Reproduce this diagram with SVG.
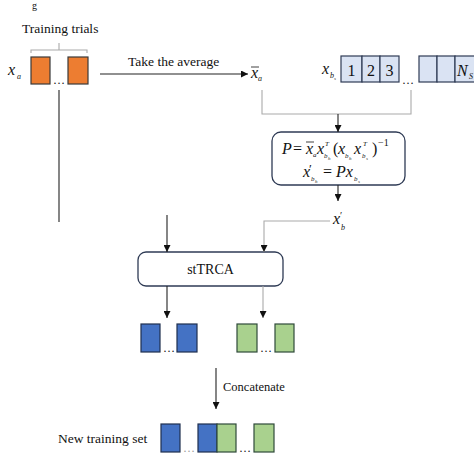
<svg xmlns="http://www.w3.org/2000/svg" width="474" height="476" viewBox="0 0 474 476">
<defs>
<marker id="ab" viewBox="0 0 10 10" refX="10" refY="5" markerWidth="7" markerHeight="7" markerUnits="userSpaceOnUse" orient="auto"><path d="M0,0 L10,5 L0,10 z" fill="#111"/></marker>
<marker id="ag" viewBox="0 0 10 10" refX="10" refY="5" markerWidth="7" markerHeight="7" markerUnits="userSpaceOnUse" orient="auto"><path d="M0,0 L10,5 L0,10 z" fill="#111"/></marker>
<style>
text{font-family:"Liberation Serif","Times New Roman",serif;fill:#111}
.t{font-size:13.5px}
.m{font-size:16px;font-style:italic}
.s{font-size:8px;font-style:italic}
.ss{font-size:7px;font-style:italic}
.sss{font-size:5px;font-style:italic}
.pr{font-size:13px}
.n{font-size:16px}
.k{stroke:#222;stroke-width:1.1;fill:none}
.g{stroke:#aaa;stroke-width:1.1;fill:none}
.or{fill:#ED7D31;stroke:#3a3a3a;stroke-width:1.2}
.bl{fill:#4472C4;stroke:#1f2f4f;stroke-width:1.2}
.gr{fill:#A9D18E;stroke:#2f4a3a;stroke-width:1.2}
.cell{fill:#DAE3F3;stroke:#2f3b55;stroke-width:1.2}
.box{fill:#fff;stroke:#2f3b55;stroke-width:1.3}
.dots{font-size:12px}
</style>
</defs>

<text x="32" y="9" style="font-size:10px">g</text>

<g id="trials">
<text x="22" y="33" class="t">Training trials</text>
<path class="g" d="M31,53 V50 H87 V53 M59,50 V43"/>
<text x="8" y="75" class="m">x</text><text x="17" y="79" class="s">a</text>
<rect class="or" x="31" y="57" width="19" height="27"/>
<rect class="or" x="68" y="57" width="20" height="27"/>
<text x="53" y="84" class="dots">…</text>
</g>

<g id="xbar">
<text x="251" y="78" class="m">x</text><line x1="251" y1="67" x2="259" y2="67" stroke="#111" stroke-width="0.8"/><text x="258" y="81" class="s">a</text>
</g>

<g id="xbs">
<text x="322" y="74" class="m">x</text><text x="330" y="78" class="s">b</text><text x="334" y="80" class="sss">s</text>
<rect class="cell" x="341" y="56" width="21" height="26"/>
<rect class="cell" x="362" y="56" width="18" height="26"/>
<rect class="cell" x="380" y="56" width="19" height="26"/>
<text x="351.5" y="76" class="n" text-anchor="middle">1</text>
<text x="371" y="76" class="n" text-anchor="middle">2</text>
<text x="389.5" y="76" class="n" text-anchor="middle">3</text>
<text x="402" y="84" class="dots">…</text>
<rect class="cell" x="419" y="56" width="18" height="26"/>
<rect class="cell" x="437" y="56" width="18" height="26"/>
<rect class="cell" x="455" y="56" width="22" height="26"/>
<text x="457" y="76" class="m">N</text><text x="469" y="79" class="s">S</text>
</g>

<g id="proj">
<rect class="box" x="272" y="132" width="133" height="53" rx="9"/>
<text x="282" y="154" class="m">P</text>
<text x="293" y="154" class="m" style="font-style:normal">=</text>
<text x="306" y="154" class="m">x</text><line x1="306" y1="142" x2="314" y2="142" stroke="#111" stroke-width="0.8"/><text x="313" y="157" class="ss">a</text>
<text x="317" y="154" class="m">x</text><text x="325" y="146" class="ss">T</text><text x="324" y="158" class="ss">b</text><text x="328" y="160" class="sss">h</text>
<text x="333" y="154" class="m" style="font-style:normal">(</text>
<text x="338" y="154" class="m">x</text><text x="345" y="158" class="ss">b</text><text x="349" y="160" class="sss">h</text>
<text x="354" y="154" class="m">x</text><text x="363" y="146" class="ss">T</text><text x="362" y="158" class="ss">b</text><text x="366" y="160" class="sss">s</text>
<text x="372" y="154" class="m" style="font-style:normal">)</text>
<text x="378" y="146" style="font-size:10px">−1</text>
<text x="303" y="177" class="m">x</text><text x="309" y="173" class="pr">′</text><text x="311" y="181" class="ss">b</text><text x="315" y="183" class="sss">h</text>
<text x="323" y="177" class="m" style="font-style:normal">=</text>
<text x="336" y="177" class="m">Px</text><text x="354" y="181" class="ss">b</text><text x="358" y="183" class="sss">s</text>
</g>

<g id="xprime">
<text x="333" y="224" class="m">x</text><text x="340" y="219" style="font-size:10px">′</text><text x="341" y="230" class="s">b</text>
</g>

<g id="sttrca">
<rect class="box" x="138" y="252" width="145" height="34" rx="8"/>
<text x="210.5" y="274" text-anchor="middle" style="font-size:14px">stTRCA</text>
</g>

<g id="outputs">
<rect class="bl" x="141" y="324" width="19" height="28"/>
<text x="163" y="352" class="dots">…</text>
<rect class="bl" x="177" y="324" width="20" height="28"/>
<rect class="gr" x="237" y="324" width="20" height="28"/>
<text x="260" y="352" class="dots">…</text>
<rect class="gr" x="275" y="324" width="19" height="28"/>
</g>

<g id="newset">
<text x="58" y="443" class="t">New training set</text>
<rect class="bl" x="161" y="424" width="19" height="28"/>
<text x="183" y="452" class="dots" style="fill:#999">…</text>
<rect class="bl" x="198" y="424" width="19" height="28"/>
<rect class="gr" x="217" y="424" width="19" height="28"/>
<text x="239" y="452" class="dots">…</text>
<rect class="gr" x="254" y="424" width="20" height="28"/>
</g>

<g id="connectors">
<line class="k" x1="100" y1="74" x2="248" y2="74" marker-end="url(#ab)"/>
<text x="128" y="66" class="t">Take the average</text>
<line class="k" x1="59" y1="90" x2="59" y2="222"/>
<path class="g" d="M262,90 V114 H411 V90"/>
<line class="k" x1="338" y1="114" x2="338" y2="132" marker-end="url(#ab)"/>
<line class="k" x1="338" y1="185" x2="338" y2="201" marker-end="url(#ab)"/>
<path class="g" d="M330,221 H264 V252" marker-end="url(#ag)"/>
<line class="k" x1="167" y1="215" x2="167" y2="252" marker-end="url(#ab)"/>
<line class="k" x1="167" y1="286" x2="167" y2="318" marker-end="url(#ab)"/>
<line class="g" x1="263" y1="286" x2="263" y2="318" marker-end="url(#ab)"/>
<line class="k" x1="216" y1="368" x2="216" y2="409" marker-end="url(#ab)"/>
<text x="223" y="391" style="font-size:12.5px">Concatenate</text>
</g>
</svg>
